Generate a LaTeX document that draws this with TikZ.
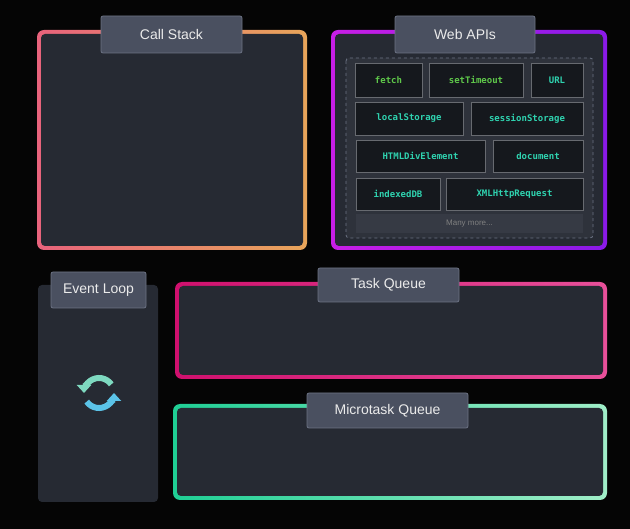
\documentclass[tikz,border=0pt]{standalone}
\usepackage{fontspec}
\setmainfont{Liberation Sans}
\setmonofont{DejaVu Sans Mono}
\usetikzlibrary{arrows.meta}
\definecolor{bg}{HTML}{050505}
\definecolor{panel}{HTML}{262A33}
\definecolor{lab}{HTML}{4A5060}
\definecolor{labb}{HTML}{6C7384}
\definecolor{cell}{HTML}{15181D}
\definecolor{grn}{HTML}{5FC84A}
\definecolor{tea}{HTML}{2FD3B0}
\definecolor{csl}{HTML}{E8637C}
\definecolor{csr}{HTML}{E8A55A}
\definecolor{wal}{HTML}{C81EE6}
\definecolor{war}{HTML}{8A1AE8}
\definecolor{dash}{HTML}{2E323B}
\definecolor{many}{HTML}{363A44}
\definecolor{ic1}{HTML}{7ED9C0}
\definecolor{ic2}{HTML}{5BC3E8}
\definecolor{tql}{HTML}{D0106E}
\definecolor{tqr}{HTML}{E8509A}
\definecolor{mql}{HTML}{1FCF95}
\definecolor{mqr}{HTML}{A0EEC8}
\begin{document}
\begin{tikzpicture}[x=1pt,y=-1pt,
  lbl/.style={draw=labb,fill=lab,rounded corners=2pt,line width=0.8pt,text=white!92!black,font=\fontsize{14}{16}\selectfont,inner sep=0pt},
  cellst/.style={fill=cell,draw=panel!70!white,line width=0.5pt,font=\ttfamily\bfseries\fontsize{9}{10}\selectfont,inner sep=0pt},
  inner/.style={fill=panel,rounded corners=4pt}]
\useasboundingbox (0,0) rectangle (630,529);
\fill[bg] (0,0) rectangle (630,529);
% Call Stack
\shade[left color=csl,right color=csr,rounded corners=7pt] (37,30) rectangle (307,250);
\fill[inner] (41,34) rectangle (303,246);
\node[lbl,minimum width=141pt,minimum height=37pt] (cs) at (171.5,34.5) {Call Stack};
% Web APIs
\shade[left color=wal,right color=war,rounded corners=7pt] (331,30) rectangle (607,250);
\fill[inner] (335,34) rectangle (603,246);
\draw[dashed,draw=labb,fill=dash,rounded corners=3pt,line width=0.8pt] (346,58) rectangle (593,238);
\node[lbl,minimum width=140pt,minimum height=37pt] (wa) at (465,34.5) {Web APIs};
\node[cellst,text=grn,minimum width=67pt,minimum height=34pt] (f) at (388.5,80) {fetch};
\node[cellst,text=grn,minimum width=94pt,minimum height=34pt] (st) at (476,80) {setTimeout};
\node[cellst,text=tea,minimum width=52pt,minimum height=34pt] (url) at (557,80) {URL};
\node[cellst,text=tea,minimum width=108pt,minimum height=33pt] (ls) at (409,118.5) {localStorage};
\node[cellst,text=tea,minimum width=112pt,minimum height=33pt] (ss) at (527,118.5) {sessionStorage};
\node[cellst,text=tea,minimum width=129pt,minimum height=32pt] (hd) at (420.5,156) {HTMLDivElement};
\node[cellst,text=tea,minimum width=90pt,minimum height=32pt] (doc) at (538,156) {document};
\node[cellst,text=tea,minimum width=84pt,minimum height=32pt] (idb) at (398,194) {indexedDB};
\node[cellst,text=tea,minimum width=137pt,minimum height=32pt] (xhr) at (514.5,194) {XMLHttpRequest};
\node[fill=many,minimum width=227pt,minimum height=19pt,inner sep=0pt,text=gray,font=\fontsize{8}{9}\selectfont] (mm) at (469.5,223.5) {Many more...};
% Event loop
\fill[panel,rounded corners=4pt] (38,285) rectangle (158,502);
\node[lbl,minimum width=95pt,minimum height=36pt] (el) at (98.5,290) {Event Loop};
\draw[line width=6pt,ic1,-{Triangle[length=8pt,width=14pt]}] (99,393)+(-35:15) arc (-35:-180:15);
\draw[line width=6pt,ic2,-{Triangle[length=8pt,width=14pt]}] (99,393)+(145:15) arc (145:0:15);
% Task queue
\shade[left color=tql,right color=tqr,rounded corners=7pt] (175,282) rectangle (607,379);
\fill[inner] (179,286) rectangle (603,375);
\node[lbl,minimum width=141pt,minimum height=34pt] (tq) at (388.5,285) {Task Queue};
% Microtask queue
\shade[left color=mql,right color=mqr,rounded corners=7pt] (173,404) rectangle (607,500);
\fill[inner] (177,408) rectangle (603,496);
\node[lbl,minimum width=161pt,minimum height=35pt] (mq) at (387.5,410.5) {Microtask Queue};
\end{tikzpicture}
\end{document}
